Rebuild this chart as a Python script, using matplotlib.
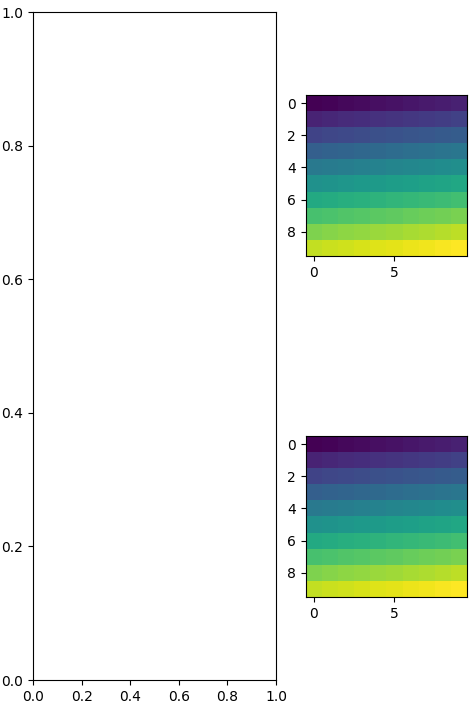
import matplotlib
matplotlib.use("Agg")
import matplotlib.pyplot as plt
import numpy as np

# image values, one row per line
rows = [
    [0, 1, 2, 3, 4, 5, 6, 7, 8, 9],
    [10, 11, 12, 13, 14, 15, 16, 17, 18, 19],
    [20, 21, 22, 23, 24, 25, 26, 27, 28, 29],
    [30, 31, 32, 33, 34, 35, 36, 37, 38, 39],
    [40, 41, 42, 43, 44, 45, 46, 47, 48, 49],
    [50, 51, 52, 53, 54, 55, 56, 57, 58, 59],
    [60, 61, 62, 63, 64, 65, 66, 67, 68, 69],
    [70, 71, 72, 73, 74, 75, 76, 77, 78, 79],
    [80, 81, 82, 83, 84, 85, 86, 87, 88, 89],
    [90, 91, 92, 93, 94, 95, 96, 97, 98, 99],
]
img = np.array(rows)

fig = plt.figure(figsize=(4.74, 7.06), dpi=100)

ax_left = fig.add_axes([33 / 474, 26 / 706, 243 / 474, 668 / 706])

ax_top = fig.add_axes([305 / 474, 450 / 706, 162 / 474, 161 / 706])
ax_top.imshow(img)

ax_bot = fig.add_axes([305 / 474, 109 / 706, 162 / 474, 161 / 706])
ax_bot.imshow(img)

fig.savefig("out.png", dpi=100)
